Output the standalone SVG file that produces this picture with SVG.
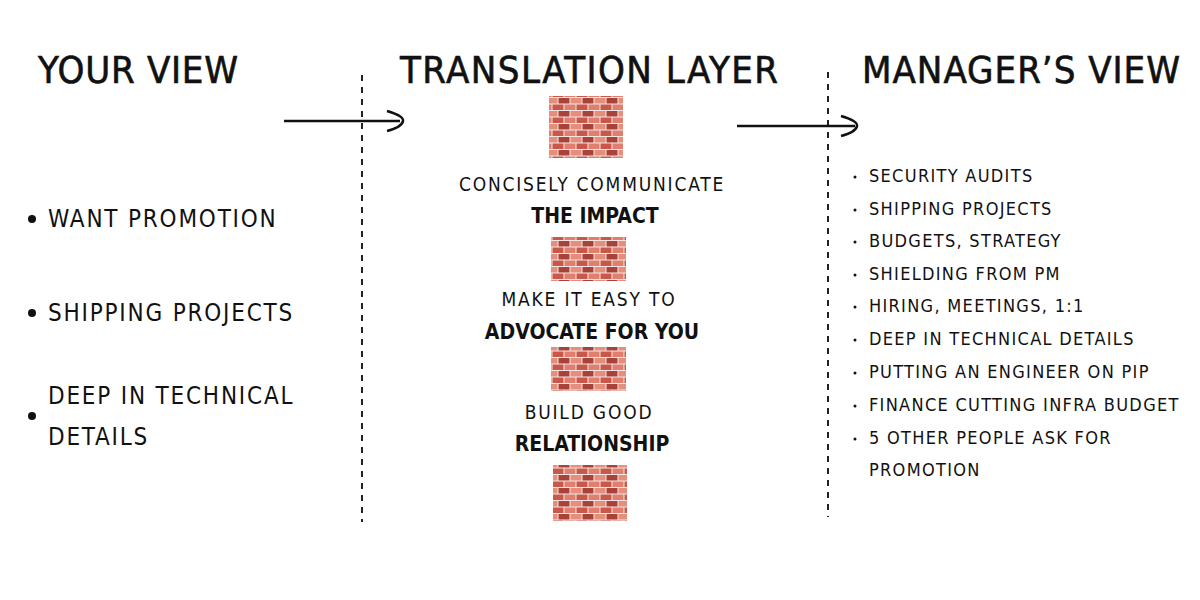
<svg xmlns="http://www.w3.org/2000/svg" width="1200" height="600" viewBox="0 0 1200 600">
<style>
.t{font-family:"DejaVu Sans Condensed","DejaVu Sans",sans-serif;fill:#111}
.h{font-size:38px;stroke:#111;stroke-width:0.6}
.l{font-size:24px;letter-spacing:1.8px}
.m{font-size:19px;text-anchor:middle;letter-spacing:1.8px}
.b{font-size:21px;font-weight:bold;text-anchor:middle}
.r{font-size:18px;letter-spacing:1.3px}
.dash{stroke:#222;stroke-width:2;stroke-dasharray:6,6}
.arr{stroke:#111;stroke-width:2.5;fill:none}
</style>
<defs>
<pattern id="brick" width="24" height="13" patternUnits="userSpaceOnUse">
<rect width="24" height="13" fill="#f3e6e2"/>
<rect x="0.5" y="0.5" width="11" height="5.5" fill="#c9584a"/>
<rect x="12.5" y="0.5" width="11" height="5.5" fill="#e07f6e"/>
<rect x="-5.5" y="7" width="11" height="5.5" fill="#e58e7c"/>
<rect x="6.5" y="7" width="11" height="5.5" fill="#a9423a"/>
<rect x="18.5" y="7" width="11" height="5.5" fill="#e58e7c"/>
</pattern>
</defs>
<rect width="1200" height="600" fill="#fff"/>
<g id="headers">
<text class="t h" x="38" y="83" textLength="200">YOUR VIEW</text>
<text class="t h" x="400" y="83" textLength="378">TRANSLATION LAYER</text>
<text class="t h" x="862" y="83" textLength="318">MANAGER’S VIEW</text>
</g>
<g id="dividers">
<line class="dash" x1="362" y1="75" x2="362" y2="522"/>
<line class="dash" x1="828" y1="72" x2="828" y2="517"/>
</g>
<g id="connectors">
<line class="arr" x1="284" y1="121" x2="400" y2="121"/>
<path class="arr" d="M387 111 Q404 116 403 121 Q402 127 387 131"/>
<line class="arr" x1="737" y1="126" x2="855" y2="126"/>
<path class="arr" d="M841 116 Q858 121 857 126 Q856 132 841 136"/>
</g>
<g id="your-view">
<circle cx="32" cy="219" r="4" fill="#111"/>
<text class="t l" x="48" y="227">WANT PROMOTION</text>
<circle cx="32" cy="313" r="4" fill="#111"/>
<text class="t l" x="48" y="321">SHIPPING PROJECTS</text>
<circle cx="32" cy="416" r="4" fill="#111"/>
<text class="t l" x="48" y="404">DEEP IN TECHNICAL</text>
<text class="t l" x="48" y="445">DETAILS</text>
</g>
<g id="translation">
<rect x="549" y="96" width="74" height="62" fill="url(#brick)"/>
<text class="t m" x="592" y="191">CONCISELY COMMUNICATE</text>
<text class="t b" x="595" y="223">THE IMPACT</text>
<rect x="551" y="237" width="75" height="44" fill="url(#brick)"/>
<text class="t m" x="589" y="306">MAKE IT EASY TO</text>
<text class="t b" x="592" y="339">ADVOCATE FOR YOU</text>
<rect x="551" y="347" width="75" height="44" fill="url(#brick)"/>
<text class="t m" x="589" y="419">BUILD GOOD</text>
<text class="t b" x="592" y="451">RELATIONSHIP</text>
<rect x="553" y="465" width="74" height="56" fill="url(#brick)"/>
</g>
<g id="managers-view">
<g fill="#111">
<circle cx="855" cy="177" r="1.5"/><circle cx="855" cy="210" r="1.5"/><circle cx="855" cy="242" r="1.5"/><circle cx="855" cy="275" r="1.5"/><circle cx="855" cy="307" r="1.5"/><circle cx="855" cy="340" r="1.5"/><circle cx="855" cy="373" r="1.5"/><circle cx="855" cy="406" r="1.5"/><circle cx="855" cy="439" r="1.5"/>
</g>
<text class="t r" x="869" y="182">SECURITY AUDITS</text>
<text class="t r" x="869" y="215">SHIPPING PROJECTS</text>
<text class="t r" x="869" y="247">BUDGETS, STRATEGY</text>
<text class="t r" x="869" y="280">SHIELDING FROM PM</text>
<text class="t r" x="869" y="312">HIRING, MEETINGS, 1:1</text>
<text class="t r" x="869" y="345">DEEP IN TECHNICAL DETAILS</text>
<text class="t r" x="869" y="378">PUTTING AN ENGINEER ON PIP</text>
<text class="t r" x="869" y="411">FINANCE CUTTING INFRA BUDGET</text>
<text class="t r" x="869" y="444">5 OTHER PEOPLE ASK FOR</text>
<text class="t r" x="869" y="476">PROMOTION</text>
</g>
</svg>
